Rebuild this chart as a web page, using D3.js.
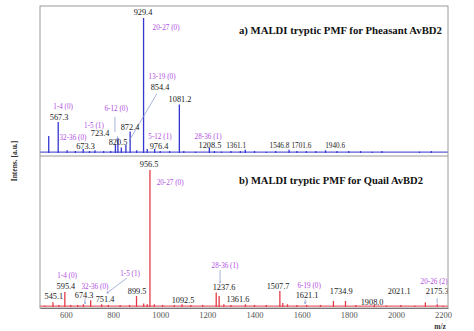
<!DOCTYPE html>
<html><head><meta charset="utf-8">
<script src="https://cdn.jsdelivr.net/npm/d3@7"></script>
<style>
html,body{margin:0;padding:0;background:#fff;}
svg{display:block;}
text{font-family:"Liberation Serif","DejaVu Serif",serif;}
</style></head>
<body><svg id="c" width="474" height="331"></svg>
<script>
// ---------- data ----------
const xTicks = [600, 800, 1000, 1200, 1400, 1600, 1800, 2000, 2200];

const pheasantMz  = [527, 567.3, 605, 640, 673.3, 700, 723.4, 760, 790, 810, 820.5, 835, 854.4, 872.4, 900, 929.4, 945, 976.4, 1000, 1040, 1081.2, 1100, 1150, 1208.5, 1230, 1260, 1300, 1340, 1361.1, 1400, 1450, 1490, 1546.8, 1580, 1620, 1660, 1701.6, 1750, 1800, 1850, 1900, 1940.6, 2100, 2150];
const pheasantInt = [12.6, 23, 2, 1.5, 3, 1.5, 2, 1.5, 1.5, 6, 11, 4, 6, 16, 2, 100, 3, 3, 1.5, 1.5, 36, 1.5, 1, 4, 1.5, 1, 1.5, 1.5, 2.5, 1.5, 1, 1.5, 2.5, 1.5, 1.5, 1.5, 2, 1.5, 1.5, 1.5, 1, 1.5, 1, 1.5];

const quailMz  = [510, 545.1, 570, 595.4, 620, 650, 674.3, 705, 751.4, 780, 830, 870, 899.5, 930, 945, 956.5, 975, 1010, 1060, 1092.5, 1130, 1180, 1237.6, 1250, 1270, 1300, 1361.6, 1400, 1450, 1507.7, 1520, 1540, 1580, 1621.1, 1680, 1734.9, 1786, 1830, 1908.0, 1960, 2021.1, 2080, 2125, 2175.3, 2200];
const quailInt = [1, 3.5, 1.5, 11, 1.5, 1.5, 2, 5, 2, 1.5, 1.5, 1.5, 8, 2.5, 2, 100, 2, 1.5, 1.5, 2, 1.5, 1.5, 10.5, 8, 2, 1.5, 2, 1.5, 1.5, 11.7, 3, 2, 1.5, 1.5, 1.5, 4.4, 4.4, 1.5, 1.5, 1, 1.5, 1, 3.4, 2, 1];

// annotations: [text, mz, level, kind]  kind: "n" number, "s" small number, "f" fragment (purple)
const pheasantLabels = [
  ["929.4", 927, 102, "n"], ["20-27 (0)", 1025, 91, "f"], ["13-19 (0)", 1008, 55, "f"],
  ["854.4", 999, 46.7, "n"], ["1081.2", 1084, 37.8, "n"], ["1-4 (0)", 588, 32.6, "f"],
  ["567.3", 571, 24.4, "n"], ["6-12 (0)", 813, 31, "f"], ["1-5 (1)", 719, 18.5, "f"],
  ["723.4", 745, 12.6, "n"], ["872.4", 872, 17, "n"], ["32-36 (0)", 630, 9.8, "f"],
  ["673.3", 683, 2.6, "n"], ["820.5", 821, 6, "n"], ["976.4", 995, 3, "n"],
  ["5-12 (1)", 999, 10.4, "f"], ["28-36 (1)", 1203, 10.4, "f"], ["1208.5", 1211, 3.7, "n"],
  ["1361.1", 1322, 3.7, "s"], ["1546.8", 1506, 3.7, "s"], ["1701.6", 1599, 3.7, "s"],
  ["1940.6", 1742, 3.7, "s"]
];
const quailLabels = [
  ["956.5", 953, 102, "n"], ["20-27 (0)", 1042, 89, "f"], ["1-4 (0)", 605, 21, "f"],
  ["595.4", 600, 13, "n"], ["32-36 (0)", 723, 13, "f"], ["1-5 (1)", 872, 22.6, "f"],
  ["545.1", 549, 5.8, "n"], ["674.3", 677, 6.6, "n"], ["751.4", 766, 3.6, "n"],
  ["899.5", 902, 9.5, "n"], ["1092.5", 1097, 2.9, "n"], ["28-36 (1)", 1275, 28.5, "f"],
  ["1237.6", 1271, 12.4, "n"], ["1361.6", 1330, 3.6, "n"], ["1507.7", 1500, 13, "n"],
  ["6-19 (0)", 1632, 13.9, "f"], ["1621.1", 1623, 6.6, "n"], ["1734.9", 1768, 9.5, "n"],
  ["1908.0", 1899, 1.5, "n"], ["2021.1", 2014, 9.5, "n"], ["2175.3", 2175, 9.5, "n"],
  ["20-26 (2)", 2162, 16.8, "f"]
];
// leader lines: [mz1, level1, mz2, level2, arrowhead]
const pheasantLeaders = [[986, 44, 868, 9, 0], [808, 26.7, 808, 15.5, 0], [820, 12.5, 817, 9.5, 1]];
const quailLeaders = [[859, 21.2, 774, 10.2, 1], [1254, 27, 1254, 17.5, 1], [681, 6.5, 681, 2.5, 1], [1615, 5.5, 1615, 2.5, 1], [2175, 6.5, 2175, 2.5, 0]];

const titles = ["a) MALDI tryptic PMF for Pheasant AvBD2", "b) MALDI tryptic PMF for Quail AvBD2"];

// ---------- layout ----------
const svg = d3.select("#c");
const L = 40, R = 448, T = 6, MID = 156, B = 308;
const x = d3.scaleLinear().domain([490, 2221]).range([L, R]);
const yA = d3.scaleLinear().domain([0, 100]).range([153, 18]);
const yB = d3.scaleLinear().domain([0, 100]).range([307, 170]);

svg.append("defs").html(
  '<clipPath id="clipA"><rect x="'+L+'" y="'+T+'" width="'+(R-L)+'" height="'+(MID-T)+'"/></clipPath>' +
  '<clipPath id="clipB"><rect x="'+L+'" y="'+MID+'" width="'+(R-L)+'" height="'+(B-MID)+'"/></clipPath>' +
  '<marker id="arr" viewBox="0 0 6 6" refX="5" refY="3" markerWidth="4" markerHeight="4" orient="auto"><path d="M0,0 L6,3 L0,6" fill="none" stroke="#6f86c4" stroke-width="1"/></marker>'
);

const fontSize = {n: 8.3, s: 7.2, f: 7.2};

function panel(mz, ints, y, color, labels, leaders, title, clip, titleLevel, titleLen) {
  const g = svg.append("g").attr("clip-path", "url(#" + clip + ")");
  g.append("line").attr("x1", L).attr("x2", R).attr("y1", y(0.6)).attr("y2", y(0.6))
    .attr("stroke", color).attr("stroke-width", 1.2).attr("opacity", 0.8);
  g.selectAll("line.pk").data(mz.map((m, i) => [m, ints[i]])).join("line")
    .attr("class", "pk")
    .attr("x1", d => x(d[0])).attr("x2", d => x(d[0]))
    .attr("y1", y(0)).attr("y2", d => y(d[1]))
    .attr("stroke", color).attr("stroke-width", 1.3);
  g.selectAll("line.ld").data(leaders).join("line")
    .attr("class", "ld")
    .attr("x1", d => x(d[0])).attr("y1", d => y(d[1]))
    .attr("x2", d => x(d[2])).attr("y2", d => y(d[3]))
    .attr("stroke", "#7f93c8").attr("stroke-width", 0.7)
    .attr("marker-end", d => d[4] ? "url(#arr)" : null);
  g.selectAll("text.lb").data(labels).join("text")
    .attr("class", "lb")
    .attr("x", d => x(d[1])).attr("y", d => y(d[2]))
    .attr("text-anchor", "middle")
    .attr("font-size", d => fontSize[d[3]])
    .attr("fill", d => d[3] === "f" ? "#b04ee0" : "#1a1a1a")
    .text(d => d[0]);
  g.append("text").attr("x", x(1334)).attr("y", y(titleLevel))
    .attr("font-size", 10).attr("font-weight", "bold").attr("fill", "#111")
    .attr("textLength", titleLen).attr("lengthAdjust", "spacingAndGlyphs")
    .text(title);
}

panel(pheasantMz, pheasantInt, yA, "#3535d0", pheasantLabels, pheasantLeaders, titles[0], "clipA", 88.5, 203);
panel(quailMz, quailInt, yB, "#e43a48", quailLabels, quailLeaders, titles[1], "clipB", 90, 184);

// frames
svg.append("rect").attr("x", L).attr("y", T).attr("width", R - L).attr("height", B - T)
  .attr("fill", "none").attr("stroke", "#9a9a9a").attr("stroke-width", 1);
svg.append("line").attr("x1", L).attr("x2", R).attr("y1", MID).attr("y2", MID)
  .attr("stroke", "#9a9a9a").attr("stroke-width", 1);

// x axis
const ax = svg.append("g").attr("transform", "translate(0," + B + ")")
  .call(d3.axisBottom(x).tickValues(xTicks).tickSize(0).tickPadding(4).tickFormat(d3.format("d")));
ax.select(".domain").attr("stroke", "#777");
ax.selectAll("text").attr("font-size", 8.5).attr("fill", "#555")
  .attr("font-family", '"Liberation Serif","DejaVu Serif",serif');

svg.append("text").attr("x", 440).attr("y", 329).attr("text-anchor", "middle")
  .attr("font-size", 7.5).attr("font-weight", "bold").attr("fill", "#333").text("m/z");

svg.append("text").attr("transform", "translate(17,161) rotate(-90)")
  .attr("text-anchor", "middle").attr("font-size", 7.5).attr("font-weight", "bold").attr("fill", "#333")
  .text("Intens. [a.u.]");
</script></body></html>
